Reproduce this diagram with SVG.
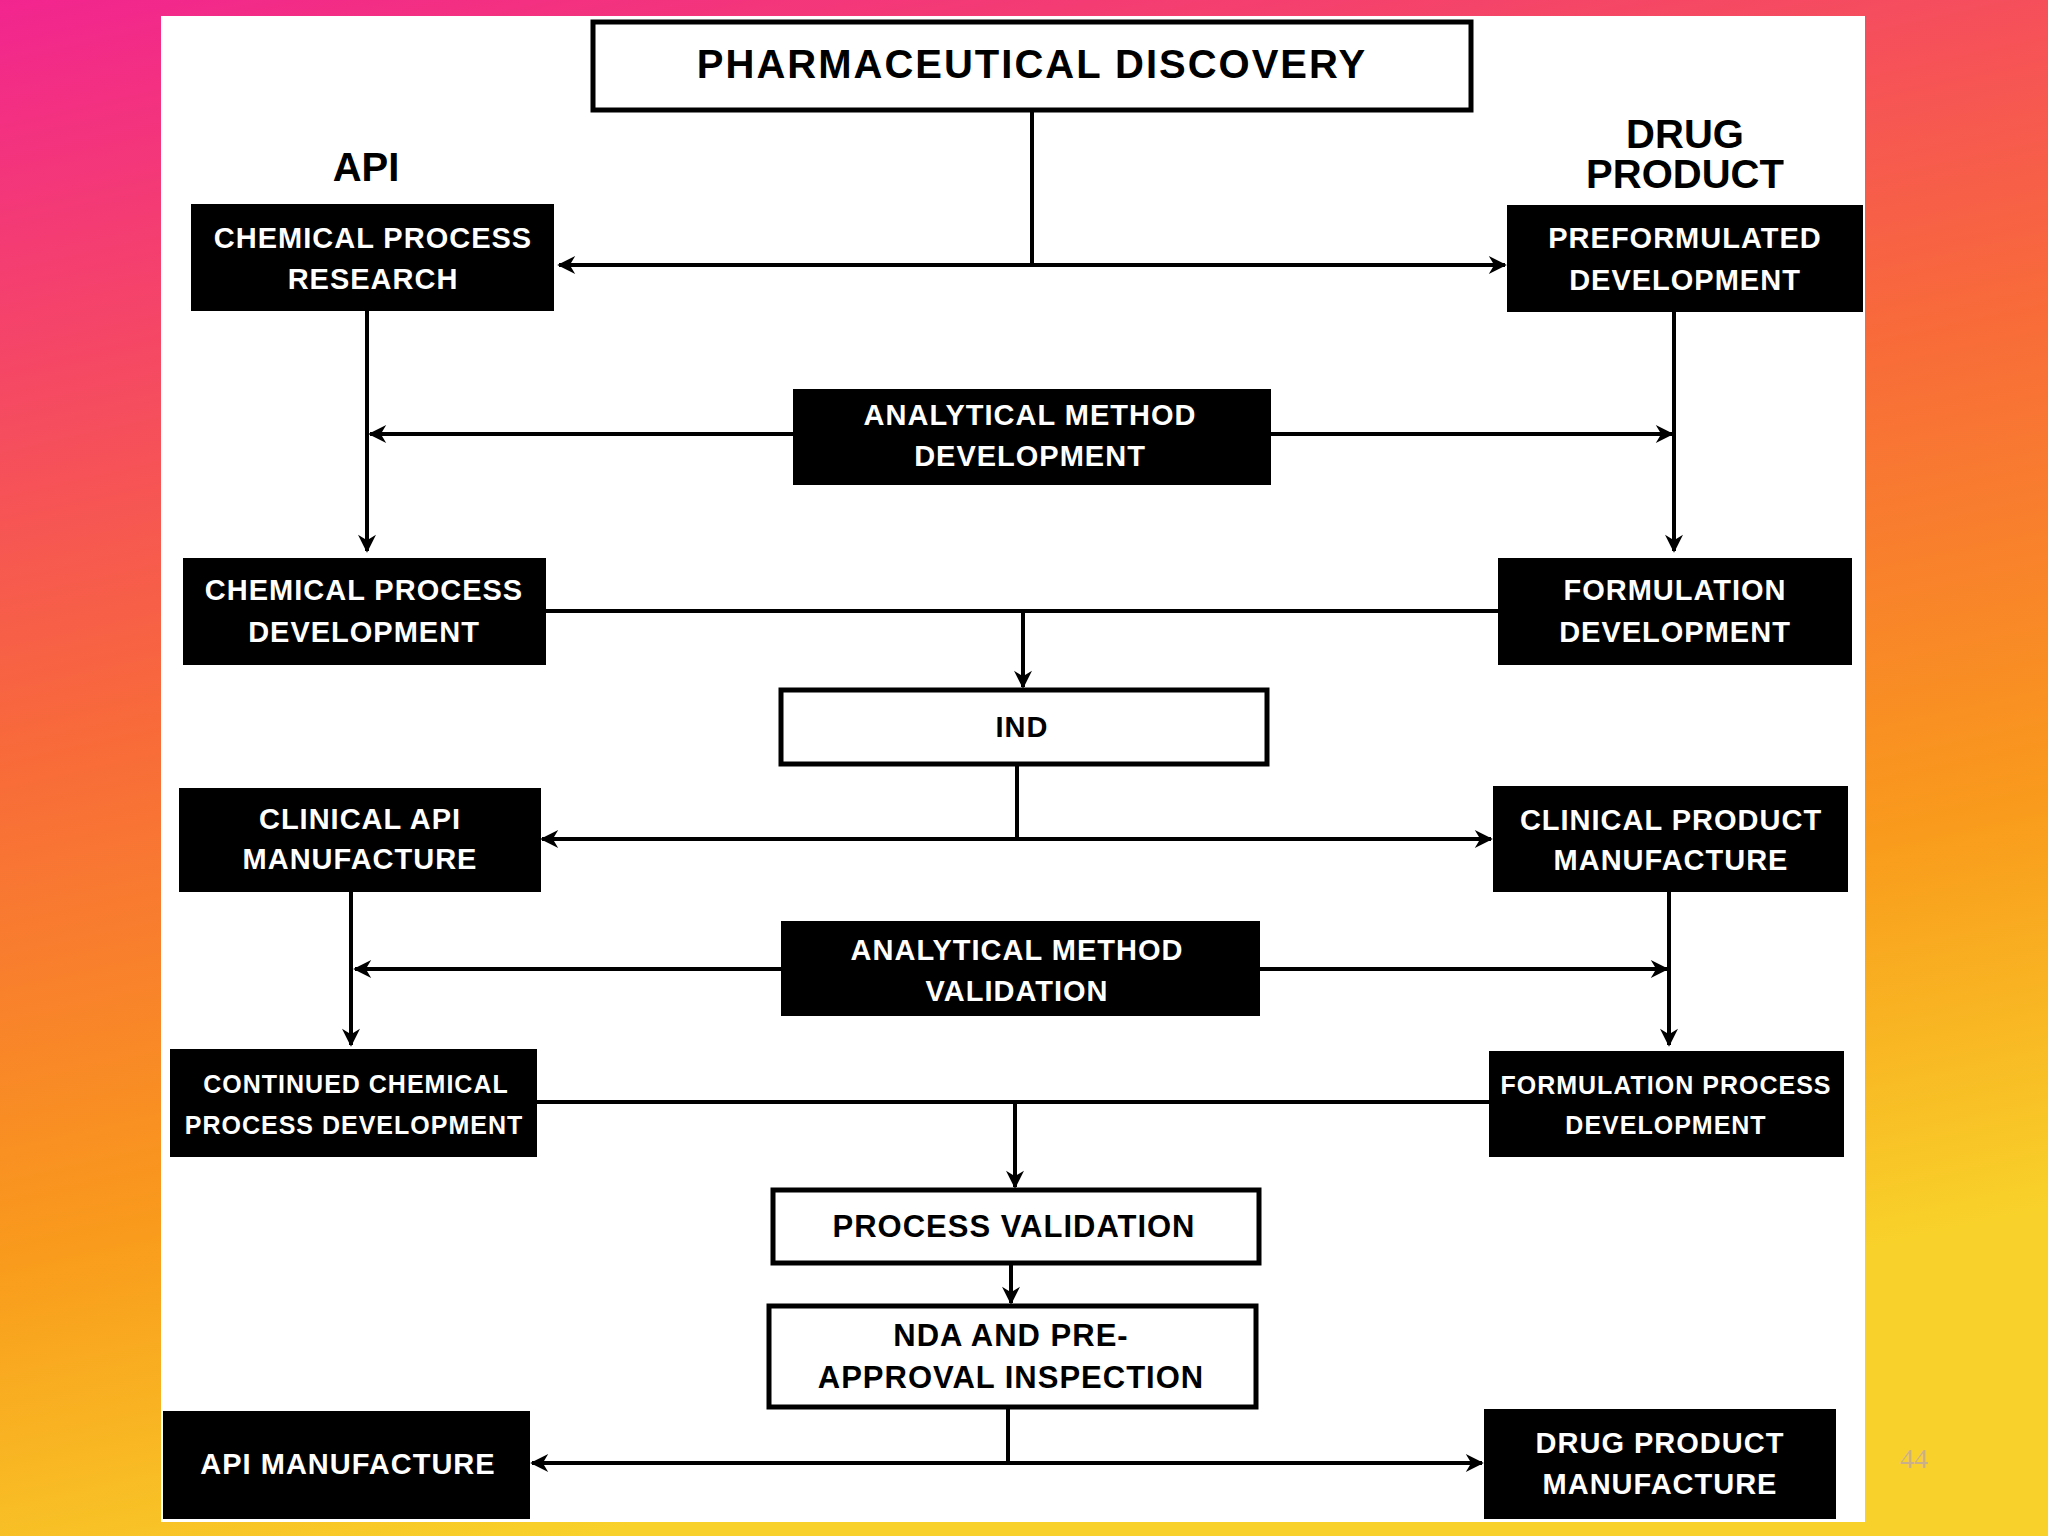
<svg xmlns="http://www.w3.org/2000/svg" width="2048" height="1536" viewBox="0 0 2048 1536">
<defs>
<linearGradient id="bg" x1="0" y1="0" x2="0.3" y2="1">
<stop offset="0" stop-color="#f2258f"/>
<stop offset="0.45" stop-color="#f86a3a"/>
<stop offset="0.75" stop-color="#f99a1c"/>
<stop offset="1" stop-color="#f8d22a"/>
</linearGradient>
<marker id="ah" viewBox="0 0 10 10" refX="9" refY="5" markerWidth="22" markerHeight="18" markerUnits="userSpaceOnUse" orient="auto"><path d="M0,0 L10,5 L0,10 L3,5 z" fill="#000"/></marker>
<style>
.blk{fill:#000}
.wht{fill:#fff;stroke:#000;stroke-width:5}
.tw{fill:#fff;font-family:"Liberation Sans",Arial,sans-serif;font-weight:bold;font-size:29px;text-anchor:middle;letter-spacing:1px}
.tb{fill:#000;font-family:"Liberation Sans",Arial,sans-serif;font-weight:bold;font-size:31px;text-anchor:middle;letter-spacing:1px}
.hd{fill:#000;font-family:"Liberation Sans",Arial,sans-serif;font-size:40px;font-weight:bold;text-anchor:middle}
.c{stroke:#000;stroke-width:4;fill:none}
.a{stroke:#000;stroke-width:4;fill:none;marker-end:url(#ah)}
</style>
</defs>
<rect width="2048" height="1536" fill="url(#bg)"/>
<rect x="161" y="16" width="1704" height="1506" fill="#fff"/>
<text x="1914" y="1468" font-family="Liberation Serif,serif" font-size="28" fill="#c9b08a" text-anchor="middle">44</text>
<g id="pd"><rect class="wht" x="593" y="22" width="878" height="88"/><text class="hd" x="1032" y="78" style="letter-spacing:2px">PHARMACEUTICAL DISCOVERY</text></g>
<g id="api"><text class="hd" x="366" y="181">API</text></g>
<g id="dp"><text class="hd" x="1685" y="148">DRUG</text><text class="hd" x="1685" y="188">PRODUCT</text></g>
<g id="cpr"><rect class="blk" x="191" y="204" width="363" height="107"/><text class="tw" x="373" y="248">CHEMICAL PROCESS</text><text class="tw" x="373" y="289">RESEARCH</text></g>
<g id="pfd"><rect class="blk" x="1507" y="205" width="356" height="107"/><text class="tw" x="1685" y="248">PREFORMULATED</text><text class="tw" x="1685" y="290">DEVELOPMENT</text></g>
<g id="amd"><rect class="blk" x="793" y="389" width="478" height="96"/><text class="tw" x="1030" y="425">ANALYTICAL METHOD</text><text class="tw" x="1030" y="466">DEVELOPMENT</text></g>
<g id="cpd"><rect class="blk" x="183" y="558" width="363" height="107"/><text class="tw" x="364" y="600">CHEMICAL PROCESS</text><text class="tw" x="364" y="642">DEVELOPMENT</text></g>
<g id="fd"><rect class="blk" x="1498" y="558" width="354" height="107"/><text class="tw" x="1675" y="600">FORMULATION</text><text class="tw" x="1675" y="642">DEVELOPMENT</text></g>
<g id="ind"><rect class="wht" x="781" y="690" width="486" height="74"/><text class="tb" x="1022" y="737" style="font-size:29px">IND</text></g>
<g id="cam"><rect class="blk" x="179" y="788" width="362" height="104"/><text class="tw" x="360" y="829">CLINICAL API</text><text class="tw" x="360" y="869">MANUFACTURE</text></g>
<g id="cpm"><rect class="blk" x="1493" y="786" width="355" height="106"/><text class="tw" x="1671" y="830">CLINICAL PRODUCT</text><text class="tw" x="1671" y="870">MANUFACTURE</text></g>
<g id="amv"><rect class="blk" x="781" y="921" width="479" height="95"/><text class="tw" x="1017" y="960">ANALYTICAL METHOD</text><text class="tw" x="1017" y="1001">VALIDATION</text></g>
<g id="ccpd"><rect class="blk" x="170" y="1049" width="367" height="108"/><text class="tw" x="356" y="1093" style="font-size:25px">CONTINUED CHEMICAL</text><text class="tw" x="354" y="1134" style="font-size:25px">PROCESS DEVELOPMENT</text></g>
<g id="fpd"><rect class="blk" x="1489" y="1051" width="355" height="106"/><text class="tw" x="1666" y="1094" style="font-size:25px">FORMULATION PROCESS</text><text class="tw" x="1666" y="1134" style="font-size:25px">DEVELOPMENT</text></g>
<g id="pv"><rect class="wht" x="773" y="1190" width="486" height="73"/><text class="tb" x="1014" y="1237">PROCESS VALIDATION</text></g>
<g id="nda"><rect class="wht" x="769" y="1306" width="487" height="101"/><text class="tb" x="1011" y="1346">NDA AND PRE-</text><text class="tb" x="1011" y="1388">APPROVAL INSPECTION</text></g>
<g id="apim"><rect class="blk" x="163" y="1411" width="367" height="108"/><text class="tw" x="348" y="1474">API MANUFACTURE</text></g>
<g id="dpm"><rect class="blk" x="1484" y="1409" width="352" height="110"/><text class="tw" x="1660" y="1453">DRUG PRODUCT</text><text class="tw" x="1660" y="1494">MANUFACTURE</text></g>
<g id="connectors">
<path class="c" d="M1032,110 V265"/>
<path class="a" d="M1032,265 H559"/><path class="a" d="M1032,265 H1505"/>
<path class="a" d="M367,311 V551"/><path class="a" d="M1674,312 V551"/>
<path class="a" d="M793,434 H370"/><path class="a" d="M1271,434 H1672"/>
<path class="c" d="M546,611 H1498"/><path class="a" d="M1023,611 V687"/>
<path class="c" d="M1017,764 V839"/>
<path class="a" d="M1017,839 H542"/><path class="a" d="M1017,839 H1491"/>
<path class="a" d="M351,892 V1045"/><path class="a" d="M1669,892 V1045"/>
<path class="a" d="M781,969 H355"/><path class="a" d="M1260,969 H1667"/>
<path class="c" d="M537,1102 H1489"/><path class="a" d="M1015,1102 V1187"/>
<path class="a" d="M1011,1263 V1303"/>
<path class="c" d="M1008,1407 V1463"/>
<path class="a" d="M1008,1463 H532"/><path class="a" d="M1008,1463 H1482"/>
</g>
</svg>
